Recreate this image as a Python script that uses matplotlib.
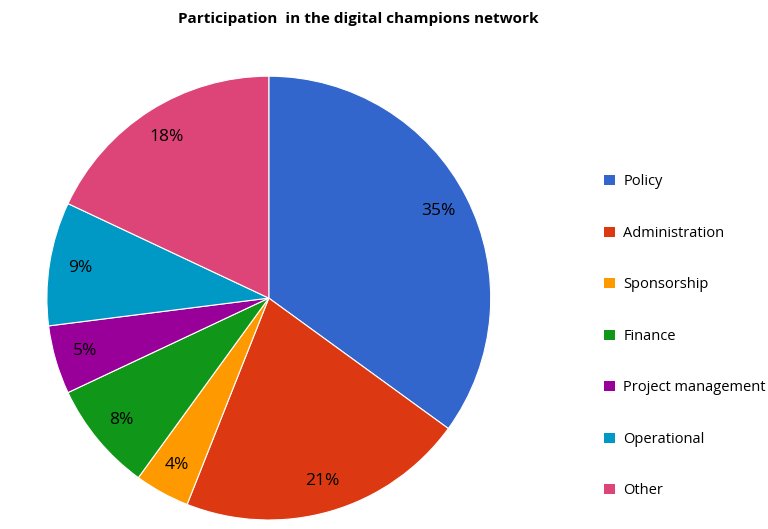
import matplotlib
matplotlib.use("Agg")
import matplotlib.pyplot as plt
from matplotlib.patches import Patch

plt.rcParams['font.family'] = ['Open Sans', 'DejaVu Sans']

categories = ["Policy", "Administration", "Sponsorship", "Finance", "Project management", "Operational", "Other"]
values = [35, 21, 4, 8, 5, 9, 18]
colors = ["#3366cc", "#dc3912", "#ff9900", "#109618", "#990099", "#0099c6", "#dd4477"]

fig = plt.figure(figsize=(7.68, 5.29), dpi=100)
ax = fig.add_axes([0.061, 0.017, 0.578, 0.839])
ax.pie(values, colors=colors, startangle=90, counterclock=False,
       labels=None, autopct=lambda p: f"{p:.0f}%", pctdistance=0.86,
       textprops=dict(fontsize=12.5, color="black"),
       wedgeprops=dict(edgecolor="white", linewidth=0.8))
ax.set_aspect("equal")
ax.set_xlim(-1, 1)
ax.set_ylim(-1, 1)
fig.text(0.467, 0.965, "Participation  in the digital champions network",
         ha="center", va="center", fontsize=11, fontweight="bold")
handles = [Patch(facecolor=c, label=l) for c, l in zip(colors, categories)]
fig.legend(handles=handles, loc="upper left", bbox_to_anchor=(0.77, 0.695),
           frameon=False, fontsize=10.5, labelspacing=2.5,
           handlelength=0.7, handleheight=0.7, handletextpad=0.6)
fig.savefig("out.png", dpi=100)
